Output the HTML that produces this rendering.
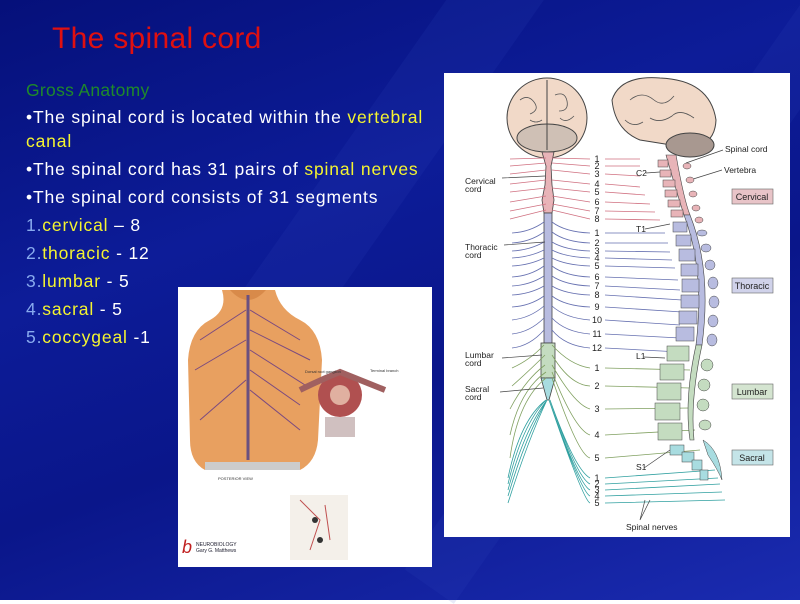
<!DOCTYPE html>
<html><head><meta charset="utf-8"><style>
body{margin:0;width:800px;height:600px;overflow:hidden;font-family:"Liberation Sans",sans-serif;}
.bg{position:absolute;left:0;top:0;width:800px;height:600px;background:linear-gradient(160deg,#05107a 0%,#0d1c98 35%,#0a168a 60%,#1a2bb0 100%);}
.streak{position:absolute;background:rgba(60,80,200,0.12);transform:rotate(35deg);}
h1{position:absolute;left:52px;top:22px;margin:0;font-size:30px;letter-spacing:0.3px;font-weight:normal;color:#e01010;}
.t{position:absolute;left:26px;font-size:17.5px;letter-spacing:0.85px;color:#fff;white-space:nowrap;}
.y{color:#f4f430}.n{color:#88aaee}
</style></head><body>
<div class="bg"></div>
<div class="streak" style="left:350px;top:-100px;width:80px;height:500px"></div>
<div class="streak" style="left:600px;top:-50px;width:60px;height:700px"></div>
<h1>The spinal cord</h1>
<div class="t" style="top:80px;color:#1e8a2a;letter-spacing:0.3px">Gross Anatomy</div>
<div class="t" style="top:107px">•The spinal cord is located within the <span class="y">vertebral</span></div>
<div class="t" style="top:131px"><span class="y">canal</span></div>
<div class="t" style="top:159px">•The spinal cord has 31 pairs of <span class="y">spinal nerves</span></div>
<div class="t" style="top:187px">•The spinal cord consists of 31 segments</div>
<div class="t" style="top:215px"><span class="n">1.</span><span class="y">cervical</span> – 8</div>
<div class="t" style="top:243px"><span class="n">2.</span><span class="y">thoracic</span> - 12</div>
<div class="t" style="top:271px"><span class="n">3.</span><span class="y">lumbar</span> - 5</div>
<div class="t" style="top:299px"><span class="n">4.</span><span class="y">sacral</span> - 5</div>
<div class="t" style="top:327px"><span class="n">5.</span><span class="y">coccygeal</span> -1</div>

<svg style="position:absolute;left:0;top:0" width="800" height="600">
<!-- bottom image -->
<rect x="178" y="287" width="254" height="280" fill="#fff"/>
<path d="M222 290 L275 290 Q280 310 300 320 Q320 330 322 360 L318 440 Q316 462 300 470 L205 470 Q190 462 190 440 L188 360 Q190 330 210 320 Q228 310 222 290Z" fill="#e8a060"/>
<path d="M230 290 Q248 310 266 290" fill="#d88a4a"/>
<line x1="248" y1="295" x2="248" y2="460" stroke="#6a5080" stroke-width="3"/>
<g stroke="#7a4a80" stroke-width="1" fill="none">
<path d="M250 310 L300 340 M250 330 L310 360 M250 350 L305 385 M250 370 L300 405 M250 390 L300 430 M246 310 L200 340 M246 340 L195 370 M246 380 L200 420"/>
</g>
<rect x="205" y="462" width="95" height="8" fill="#ccc"/>
<circle cx="340" cy="395" r="22" fill="#b05050"/><circle cx="340" cy="395" r="10" fill="#e0b0a0"/>
<path d="M300 390 Q320 380 340 372 Q360 380 385 390" stroke="#a06060" stroke-width="6" fill="none"/>
<rect x="325" y="417" width="30" height="20" fill="#d0c0c0"/>
<text x="305" y="373" font-size="4" fill="#333">Dorsal root ganglion</text>
<text x="370" y="372" font-size="4" fill="#333">Terminal branch</text>
<rect x="290" y="495" width="58" height="65" fill="#f4f0ea"/>
<path d="M300 500 L320 520 L310 550 M325 505 L330 540" stroke="#c05050" fill="none"/>
<circle cx="315" cy="520" r="3" fill="#333"/><circle cx="320" cy="540" r="3" fill="#333"/>
<text x="182" y="553" font-size="18" fill="#c02020" font-style="italic">b</text>
<text x="196" y="546" font-size="5" fill="#223">NEUROBIOLOGY</text>
<text x="196" y="552" font-size="5" fill="#223">Gary G. Matthews</text>
<text x="218" y="480" font-size="4" fill="#333">POSTERIOR VIEW</text>

<!-- right panel -->
<rect x="444" y="73" width="346" height="464" fill="#fff"/>
<ellipse cx="547" cy="118" rx="40" ry="40" fill="#f1d9c8" stroke="#444"/>
<ellipse cx="547" cy="138" rx="30" ry="14" fill="#cfc0b5" stroke="#444"/>
<line x1="547" y1="80" x2="547" y2="150" stroke="#444"/>
<path d="M612 100 Q620 75 660 78 Q710 80 716 120 Q715 145 690 148 L640 140 Q615 130 612 100Z" fill="#f1d9c8" stroke="#444"/>
<ellipse cx="690" cy="145" rx="24" ry="12" fill="#a89890" stroke="#444"/>
<g stroke="#555" fill="none" stroke-width="0.8">
<path d="M520 100 q8 -6 14 2 q6 8 -4 12 M555 95 q10 -4 12 6 q2 10 -8 10 M530 120 q6 4 12 0 M560 118 q6 6 14 -2 M630 100 q12 -10 24 0 q10 8 20 -4 M650 118 q10 6 22 -2 q8 -8 22 2 M625 120 q8 8 18 2"/>
</g>
<path d="M542 152 L554 152 L551 166 L552 185 L554 200 L552 213 L544 213 L542 200 L545 185 L546 166Z" fill="#e8b4b8" stroke="#444" stroke-width="0.8"/>
<rect x="544" y="213" width="8" height="130" fill="#b8bce0" stroke="#444" stroke-width="0.8"/>
<rect x="541" y="343" width="14" height="35" fill="#c4dcc0" stroke="#444" stroke-width="0.8"/>
<path d="M541 378 L555 378 L549 400 L547 400Z" fill="#a8dce0" stroke="#444" stroke-width="0.8"/>
<g fill="none" stroke-width="0.8">
<g stroke="#d07080">
<path d="M510 159 L546 158 M552 158 L590 159 M605 159 L640 159 M510 166 L546 163 M552 163 L590 166 M605 166 L640 166 M510 174 L546 170 M552 170 L590 174 M605 174 L640 176 M510 184 L546 180 M552 180 L590 184 M605 184 L640 187 M510 192 L546 188 M552 188 L590 192 M605 192 L645 195 M510 202 L546 196 M552 196 L590 202 M605 202 L650 204 M510 211 L546 204 M552 204 L590 211 M605 211 L655 212 M510 219 L546 210 M552 210 L590 219 M605 219 L660 220"/>
</g>
<g stroke="#6670b0">
<path d="M512 233 Q530 232 544 222 M552 222 Q565 232 590 233 M605 233 L665 233 M512 243 Q530 242 544 232 M552 232 Q565 242 590 243 M605 243 L668 243 M512 251 Q530 250 544 242 M552 242 Q565 250 590 251 M605 251 L670 252 M512 258 Q530 257 544 250 M552 250 Q565 257 590 258 M605 258 L672 260 M512 266 Q530 265 544 258 M552 258 Q565 265 590 266 M605 266 L675 268 M512 277 Q530 276 544 266 M552 266 Q565 276 590 277 M605 277 L678 280 M512 286 Q530 285 544 276 M552 276 Q565 285 590 286 M605 286 L680 290 M512 295 Q530 294 544 286 M552 286 Q565 294 590 295 M605 295 L682 300 M512 307 Q530 306 544 296 M552 296 Q565 306 590 307 M605 307 L682 312 M512 320 Q530 318 544 306 M552 306 Q565 318 590 320 M605 320 L680 325 M512 334 Q530 332 544 318 M552 318 Q565 332 590 334 M605 334 L680 338 M512 348 Q530 346 544 330 M552 330 Q565 346 590 348 M605 348 L680 352"/>
</g>
<g stroke="#80a060">
<path d="M512 368 Q530 360 544 345 M552 345 Q570 365 590 368 M605 368 L690 370 M512 386 Q530 370 545 355 M552 355 Q570 385 590 386 M605 386 L690 388 M510 409 Q525 380 545 365 M552 365 Q575 405 590 409 M605 409 L690 408 M510 435 Q520 390 546 372 M552 372 Q575 430 590 435 M605 435 L695 430 M510 458 Q518 400 546 378 M552 378 Q578 455 590 458 M605 458 L700 450"/>
</g>
<g stroke="#30a0a0">
<path d="M508 478 Q520 420 546 400 M550 400 Q575 470 590 478 M605 478 L715 470 M508 484 Q522 425 546 400 M550 400 Q577 478 590 484 M605 484 L718 478 M508 490 Q524 430 547 400 M549 400 Q579 485 590 490 M605 490 L720 484 M508 496 Q526 435 547 400 M549 400 Q581 492 590 496 M605 496 L722 492 M508 503 Q528 440 547 400 M549 400 Q583 500 590 503 M605 503 L725 500"/>
</g>
</g>
<g font-size="9" fill="#222" text-anchor="middle">
<text x="597" y="162">1</text><text x="597" y="169">2</text><text x="597" y="177">3</text><text x="597" y="187">4</text><text x="597" y="195">5</text><text x="597" y="205">6</text><text x="597" y="214">7</text><text x="597" y="222">8</text>
<text x="597" y="236">1</text><text x="597" y="246">2</text><text x="597" y="254">3</text><text x="597" y="261">4</text><text x="597" y="269">5</text><text x="597" y="280">6</text><text x="597" y="289">7</text><text x="597" y="298">8</text><text x="597" y="310">9</text><text x="597" y="323">10</text><text x="597" y="337">11</text><text x="597" y="351">12</text>
<text x="597" y="371">1</text><text x="597" y="389">2</text><text x="597" y="412">3</text><text x="597" y="438">4</text><text x="597" y="461">5</text>
<text x="597" y="481">1</text><text x="597" y="487">2</text><text x="597" y="493">3</text><text x="597" y="499">4</text><text x="597" y="506">5</text>
</g>
<g font-size="8.5" fill="#222">
<text x="465" y="184">Cervical</text><text x="465" y="192">cord</text>
<text x="465" y="250">Thoracic</text><text x="465" y="258">cord</text>
<text x="465" y="358">Lumbar</text><text x="465" y="366">cord</text>
<text x="465" y="392">Sacral</text><text x="465" y="400">cord</text>
<text x="725" y="152">Spinal cord</text><text x="724" y="173">Vertebra</text>
<text x="636" y="176">C2</text><text x="636" y="232">T1</text><text x="636" y="359">L1</text><text x="636" y="470">S1</text>
<text x="626" y="530">Spinal nerves</text>
</g>
<g stroke="#444" stroke-width="0.7" fill="none">
<path d="M502 178 L545 176 M504 245 L545 242 M502 358 L542 355 M500 392 L543 388 M723 150 L686 163 M722 170 L690 180 M646 173 L660 172 M645 229 L670 224 M644 357 L665 358 M644 468 L670 450 M640 520 L645 500 M640 520 L650 500"/>
</g>
<path d="M666 155 L676 155 Q684 200 690 215 L684 215 Q676 190 666 155Z" fill="#e8b4b8" stroke="#444" stroke-width="0.6"/>
<path d="M684 215 L690 215 Q712 270 702 345 L696 345 Q705 270 684 215Z" fill="#b8bce0" stroke="#444" stroke-width="0.6"/>
<path d="M696 345 L702 345 Q690 400 694 440 L690 440 Q684 400 696 345Z" fill="#c4dcc0" stroke="#444" stroke-width="0.6"/>
<g fill="#e8b4b8" stroke="#444" stroke-width="0.5">
<rect x="658" y="160" width="10" height="7"/><rect x="660" y="170" width="11" height="7"/><rect x="663" y="180" width="12" height="7"/><rect x="665" y="190" width="12" height="7"/><rect x="668" y="200" width="12" height="7"/><rect x="671" y="210" width="12" height="7"/>
</g>
<g fill="#b8bce0" stroke="#444" stroke-width="0.5">
<rect x="673" y="222" width="14" height="10"/><rect x="676" y="235" width="15" height="11"/><rect x="679" y="249" width="16" height="12"/><rect x="681" y="264" width="17" height="12"/><rect x="682" y="279" width="17" height="13"/><rect x="681" y="295" width="18" height="13"/><rect x="679" y="311" width="18" height="13"/><rect x="676" y="327" width="18" height="14"/>
</g>
<g fill="#c4dcc0" stroke="#444" stroke-width="0.5">
<rect x="667" y="346" width="22" height="15"/><rect x="660" y="364" width="24" height="16"/><rect x="657" y="383" width="24" height="17"/><rect x="655" y="403" width="25" height="17"/><rect x="658" y="423" width="24" height="17"/>
</g>
<g fill="#a8dce0" stroke="#444" stroke-width="0.5">
<rect x="670" y="445" width="14" height="10"/><rect x="682" y="452" width="12" height="10"/><rect x="692" y="460" width="10" height="10"/><rect x="700" y="470" width="8" height="10"/>
</g>
<g fill="#b8bce0" stroke="#444" stroke-width="0.5">
<ellipse cx="702" cy="233" rx="5" ry="3"/><ellipse cx="706" cy="248" rx="5" ry="4"/><ellipse cx="710" cy="265" rx="5" ry="5"/><ellipse cx="713" cy="283" rx="5" ry="6"/><ellipse cx="714" cy="302" rx="5" ry="6"/><ellipse cx="713" cy="321" rx="5" ry="6"/><ellipse cx="712" cy="340" rx="5" ry="6"/>
</g>
<g fill="#c4dcc0" stroke="#444" stroke-width="0.5">
<ellipse cx="707" cy="365" rx="6" ry="6"/><ellipse cx="704" cy="385" rx="6" ry="6"/><ellipse cx="703" cy="405" rx="6" ry="6"/><ellipse cx="705" cy="425" rx="6" ry="5"/>
</g>
<path d="M703 440 Q720 450 722 480 Q718 470 708 455Z" fill="#a8dce0" stroke="#444" stroke-width="0.5"/>
<g fill="#e8b4b8" stroke="#444" stroke-width="0.5">
<ellipse cx="687" cy="166" rx="4" ry="3"/><ellipse cx="690" cy="180" rx="4" ry="3"/><ellipse cx="693" cy="194" rx="4" ry="3"/><ellipse cx="696" cy="208" rx="4" ry="3"/><ellipse cx="699" cy="220" rx="4" ry="3"/>
</g>
<g font-size="9" fill="#222" stroke="#666" stroke-width="0.6">
<rect x="732" y="189" width="41" height="15" fill="#e8c4c8"/><rect x="732" y="278" width="41" height="15" fill="#d0d2ea"/><rect x="732" y="384" width="41" height="15" fill="#d4e4d0"/><rect x="732" y="450" width="41" height="15" fill="#c4e4e8"/>
</g>
<g font-size="9" fill="#222" text-anchor="middle">
<text x="752" y="200">Cervical</text><text x="752" y="289">Thoracic</text><text x="752" y="395">Lumbar</text><text x="752" y="461">Sacral</text>
</g>
</svg>
</body></html>
